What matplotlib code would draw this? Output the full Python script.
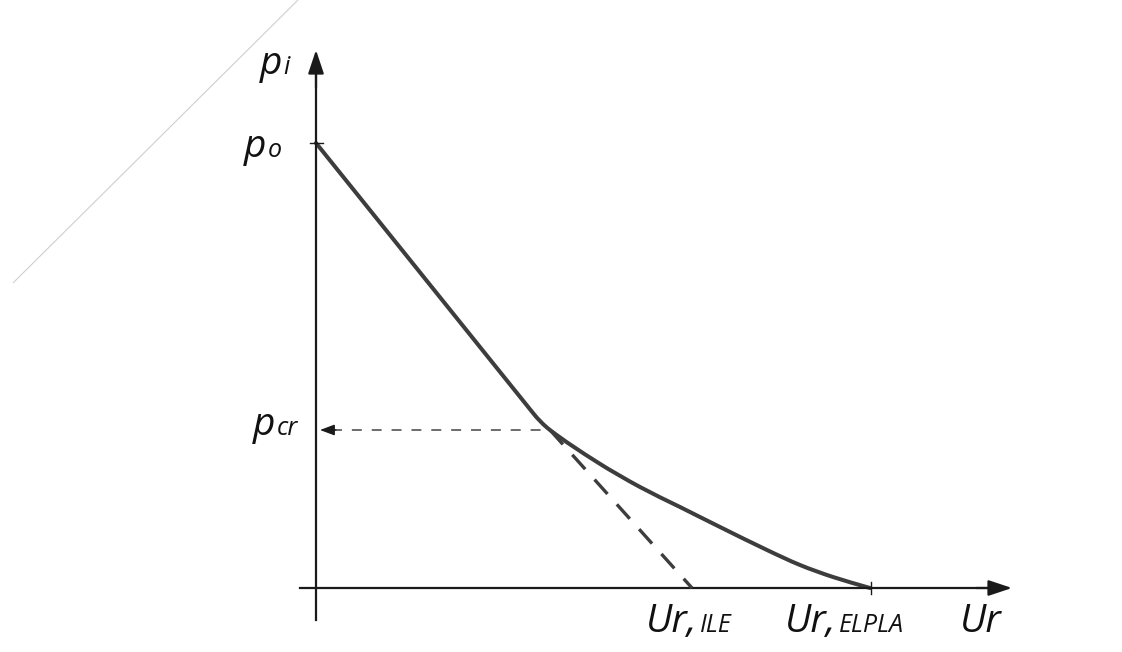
import matplotlib
matplotlib.use("Agg")
import matplotlib.pyplot as plt
from matplotlib.path import Path
from matplotlib.patches import PathPatch
import numpy as np

# ---- data (chart units) ----
p_o = 4.45          # initial pressure
p_cr = 1.58         # critical pressure
U_ILE = 3.76        # displacement, linear-elastic extrapolation
U_ELPLA = 5.54      # displacement, elasto-plastic
curve_u = [0.0, 2.17, 2.34, 2.81, 3.24, 3.64, 4.04, 4.51, 4.84, 5.17, 5.54]
curve_p = [4.45, 1.75, 1.58, 1.26, 1.01, 0.81, 0.61, 0.38, 0.23, 0.11, 0.0]
tangent_u = [2.34, U_ILE]
tangent_p = [p_cr, 0.0]
deco_u = [-0.18, -3.03]
deco_p = [5.88, 3.05]

W, H = 1122, 652
fig = plt.figure(figsize=(W / 100, H / 100), dpi=100)
ax = fig.add_axes([0, 0, 1, 1])
ax.set_xlim(-3.16, 8.06)
ax.set_ylim(-0.64, 5.88)
ax.axis("off")

axis_col = "#1a1a1a"
curve_col = "#3d3d3d"

# decorative diagonal line
ax.plot(deco_u, deco_p, color="#cfcfcf", lw=0.8, solid_capstyle="butt")

# axes with arrowheads
ax.plot([0, 0], [-0.32, 5.2], color=axis_col, lw=1.6)
ax.annotate("", xy=(0, 5.38), xytext=(0, 5.0),
            arrowprops=dict(arrowstyle="-|>,head_length=0.9,head_width=0.3",
                            mutation_scale=16, lw=1.6, color=axis_col,
                            shrinkA=0, shrinkB=0))
ax.plot([-0.16, 6.8], [0, 0], color=axis_col, lw=1.6)
ax.annotate("", xy=(6.96, 0), xytext=(6.6, 0),
            arrowprops=dict(arrowstyle="-|>,head_length=0.9,head_width=0.3",
                            mutation_scale=16, lw=1.6, color=axis_col,
                            shrinkA=0, shrinkB=0))

# ticks
ax.plot([-0.06, 0.07], [p_o, p_o], color=axis_col, lw=1.0)
ax.plot([U_ELPLA + 0.01, U_ELPLA + 0.01], [-0.06, 0.06], color=axis_col, lw=1.0)

# dashed horizontal arrow to p_cr
ax.plot([0.16, tangent_u[0]], [p_cr, p_cr], color="#606060", lw=1.3,
        dashes=(5.5, 5.5))
ax.annotate("", xy=(0.04, p_cr), xytext=(0.2, p_cr),
            arrowprops=dict(arrowstyle="-|>,head_length=0.8,head_width=0.3",
                            mutation_scale=11, lw=1.0, color=axis_col,
                            shrinkA=0, shrinkB=0))

# dashed tangent
ax.plot(tangent_u, tangent_p, color=curve_col, lw=2.4, dashes=(5.8, 4.2),
        solid_capstyle="butt")

# main curve drawn as a smooth bezier path through the read points
pts = np.column_stack([curve_u, curve_p])
n = len(pts)
tang = np.zeros_like(pts)
for i in range(n):
    if i == 0:
        d = pts[1] - pts[0]
    elif i == 1:
        d = pts[1] - pts[0]          # keep the straight branch direction
    elif i == n - 1:
        d = pts[i] - pts[i - 1]
    else:
        d = pts[i + 1] - pts[i - 1]
    tang[i] = d / np.linalg.norm(d)
verts = [tuple(pts[0])]
codes = [Path.MOVETO]
for i in range(n - 1):
    p1, p2 = pts[i], pts[i + 1]
    L = np.linalg.norm(p2 - p1) / 3
    c1 = p1 + tang[i] * L
    c2 = p2 - tang[i + 1] * L
    verts += [tuple(c1), tuple(c2), tuple(p2)]
    codes += [Path.CURVE4] * 3
ax.add_patch(PathPatch(Path(verts, codes), fill=False, edgecolor=curve_col,
                       lw=2.9, joinstyle="round", capstyle="round"))

# ---- labels: big part + small part on same baseline ----
fam = ["Open Sans", "DejaVu Sans"]
fig.canvas.draw()
renderer = fig.canvas.get_renderer()


def label(x_px, base_px, big, small, big_size=28, small_size=18, gap=1):
    t = fig.text(x_px / W, 1 - base_px / H, big, fontsize=big_size,
                 style="italic", family=fam, color="#111111",
                 ha="left", va="baseline")
    bb = t.get_window_extent(renderer)
    if small:
        fig.text((bb.x1 + gap) / W, 1 - base_px / H, small,
                 fontsize=small_size, style="italic", family=fam,
                 color="#111111", ha="left", va="baseline")


label(260, 74, "p", "i")
label(244, 157, "p", "o")
label(253, 435, "p", "cr")
label(646, 632, "Ur,", "ILE", gap=3)
label(785, 632, "Ur,", "ELPLA", gap=3)
label(960, 632, "Ur", "")

fig.savefig("out.png", dpi=100)
